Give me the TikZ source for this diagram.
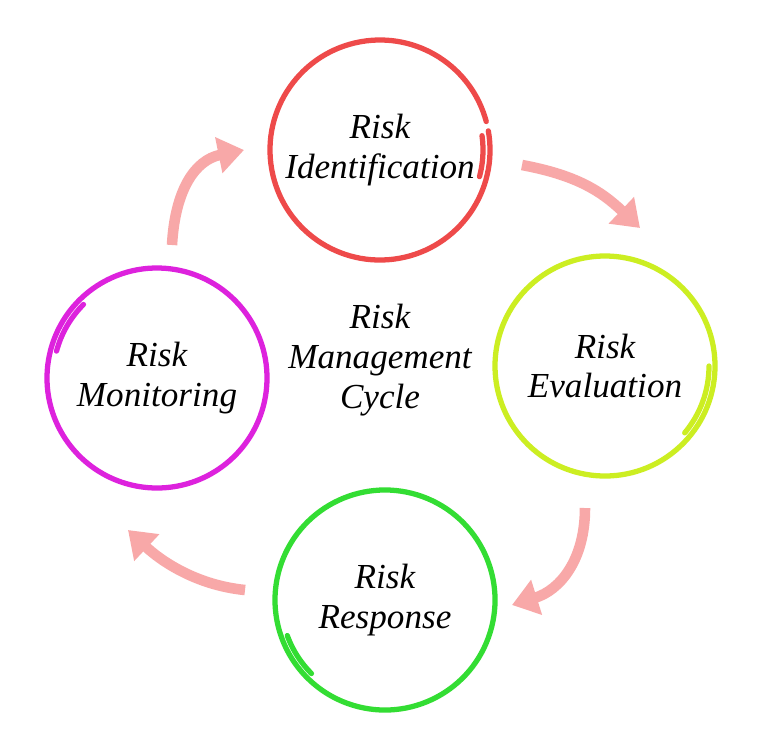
\documentclass[tikz,border=0pt]{standalone}
\usepackage{fontspec}
\setmainfont{Liberation Serif}
\usetikzlibrary{arrows.meta}
\definecolor{cred}{HTML}{EE4A4A}
\definecolor{cyel}{HTML}{CCEE22}
\definecolor{cgrn}{HTML}{33DD33}
\definecolor{cmag}{HTML}{DD22DD}
\definecolor{cpink}{HTML}{F8A8A8}
\begin{document}
\begin{tikzpicture}[x=0.03cm,y=-0.03cm,
  ring/.style={circle,minimum size=6.4cm,inner sep=0pt,align=center,font=\fontsize{30}{34}\selectfont\itshape},
  brush/.style={line width=4.5pt,line cap=round},
  parrow/.style={cpink,line width=9pt,-{Triangle[length=22pt,width=30pt]}},
  lbl/.style={align=center,font=\fontsize{30}{34}\selectfont\itshape}]
\useasboundingbox (0,0) rectangle (768,745);
\fill[white] (0,0) rectangle (768,745);
\node[ring] (ri) at (380,150) {Risk\\Identification};
\node[ring] (re) at (605,366) {Risk\\Evaluation};
\node[ring] (rr) at (385,600) {Risk\\Response};
\node[ring] (rm) at (157,378) {Risk\\Monitoring};
\node[lbl] (c) at (380,360) {Risk\\Management\\Cycle};
% brush circles
\draw[brush,cred] (ri.center) ++(-10:110) arc[start angle=-10,end angle=345,radius=110];
\draw[brush,cred] (ri.center) ++(-8:103) arc[start angle=-8,end angle=15,radius=103];
\draw[brush,cyel] (re.center) ++(-40:110) arc[start angle=-40,end angle=330,radius=110];
\draw[brush,cyel] (re.center) ++(0:104) arc[start angle=0,end angle=40,radius=104];
\draw[brush,cgrn] (rr.center) ++(200:110) arc[start angle=200,end angle=570,radius=110];
\draw[brush,cgrn] (rr.center) ++(135:104) arc[start angle=135,end angle=160,radius=104];
\draw[brush,cmag] (rm.center) ++(150:110) arc[start angle=150,end angle=515,radius=110];
\draw[brush,cmag] (rm.center) ++(195:104) arc[start angle=195,end angle=225,radius=104];
% arrows
\coordinate (a1s) at (172,245); \coordinate (a1e) at (244,150);
\coordinate (a2s) at (522,165); \coordinate (a2e) at (640,228);
\coordinate (a3s) at (585,508); \coordinate (a3e) at (512,605);
\coordinate (a4s) at (245,590); \coordinate (a4e) at (128,530);
\draw[parrow] (a1s) .. controls (175,190) and (195,160) .. (a1e);
\draw[parrow] (a2s) .. controls (575,175) and (600,190) .. (a2e);
\draw[parrow] (a3s) .. controls (585,560) and (560,590) .. (a3e);
\draw[parrow] (a4s) .. controls (195,585) and (160,560) .. (a4e);
\end{tikzpicture}
\end{document}
